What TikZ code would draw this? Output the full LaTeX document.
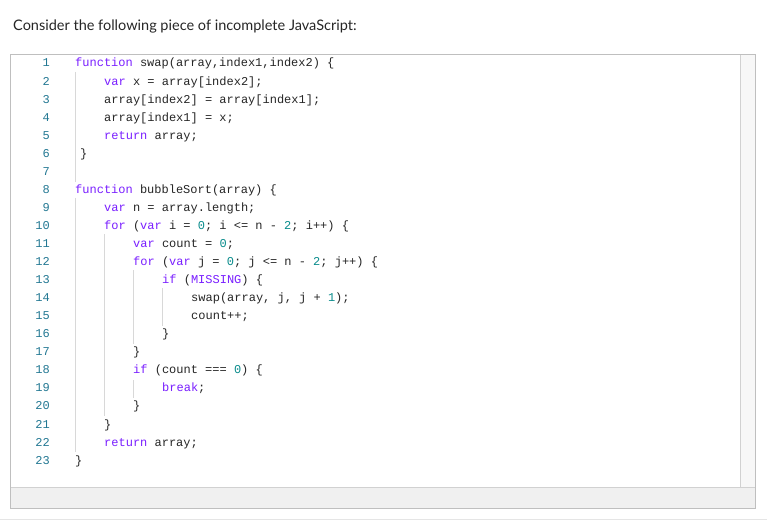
\documentclass[tikz,border=0pt]{standalone}
\usepackage{fontspec}
\setmainfont{Lato}
\setmonofont{Liberation Mono}
\definecolor{kw}{HTML}{7A1FFF}
\definecolor{num}{HTML}{098C8C}
\definecolor{ln}{HTML}{237893}
\definecolor{guide}{HTML}{D8D8D8}
\newcommand{\K}[1]{\textcolor{kw}{#1}}
\newcommand{\N}[1]{\textcolor{num}{#1}}
\begin{document}
\begin{tikzpicture}[x=1pt,y=-1pt,
  code/.style={anchor=base west,inner sep=0pt,font=\fontsize{12}{12}\selectfont\ttfamily,text=black!85},
  lnum/.style={anchor=base east,inner sep=0pt,font=\fontsize{12}{12}\selectfont\ttfamily,text=ln},
  gl/.style={draw=guide,line width=0.8pt}]
\useasboundingbox (0,0) rectangle (767,521);
\fill[white] (0,0) rectangle (767,521);
\node[anchor=base west,inner sep=0pt,font=\fontsize{14.5}{15}\selectfont,text=black!85] (title) at (13,31) {Consider the following piece of incomplete JavaScript:};
% frame
\draw[draw=black!25,fill=white,line width=1pt] (10.5,54.5) rectangle (755.5,508.5);
\fill[black!6] (11,487) rectangle (755,508);
\draw[black!18] (11,487) -- (755,487);
\draw[black!18] (740,55) -- (740,487);
\fill[black!3] (740.5,55) rectangle (755,487);
\draw[black!10] (0,519.5) -- (767,519.5);
% guides
\draw[gl] (75,72) -- (75,182);
\draw[gl] (75,198) -- (75,452);
\draw[gl] (104,234) -- (104,416);
\draw[gl] (133,270) -- (133,344);
\draw[gl] (133,380) -- (133,398);
\draw[gl] (162,288) -- (162,326);
\foreach \i in {1,...,23}{
  \node[lnum] (n\i) at (50,{67+(\i-1)*18.05}) {\i};
}
\def\Y#1{{67+(#1-1)*18.05}}
\node[code] (l1) at (75,\Y1) {\K{function} swap(array,index1,index2) \{};
\node[code] (l2) at (104,\Y2) {\K{var} x = array[index2];};
\node[code] (l3) at (104,\Y3) {array[index2] = array[index1];};
\node[code] (l4) at (104,\Y4) {array[index1] = x;};
\node[code] (l5) at (104,\Y5) {\K{return} array;};
\node[code] (l6) at (80,\Y6) {\}};
\node[code] (l8) at (75,\Y8) {\K{function} bubbleSort(array) \{};
\node[code] (l9) at (104,\Y9) {\K{var} n = array.length;};
\node[code] (l10) at (104,\Y{10}) {\K{for} (\K{var} i = \N{0}; i <= n - \N{2}; i++) \{};
\node[code] (l11) at (133,\Y{11}) {\K{var} count = \N{0};};
\node[code] (l12) at (133,\Y{12}) {\K{for} (\K{var} j = \N{0}; j <= n - \N{2}; j++) \{};
\node[code] (l13) at (162,\Y{13}) {\K{if} (\K{MISSING}) \{};
\node[code] (l14) at (191,\Y{14}) {swap(array, j, j + \N{1});};
\node[code] (l15) at (191,\Y{15}) {count++;};
\node[code] (l16) at (162,\Y{16}) {\}};
\node[code] (l17) at (133,\Y{17}) {\}};
\node[code] (l18) at (133,\Y{18}) {\K{if} (count === \N{0}) \{};
\node[code] (l19) at (162,\Y{19}) {\K{break};};
\node[code] (l20) at (133,\Y{20}) {\}};
\node[code] (l21) at (104,\Y{21}) {\}};
\node[code] (l22) at (104,\Y{22}) {\K{return} array;};
\node[code] (l23) at (75,\Y{23}) {\}};
\end{tikzpicture}
\end{document}
